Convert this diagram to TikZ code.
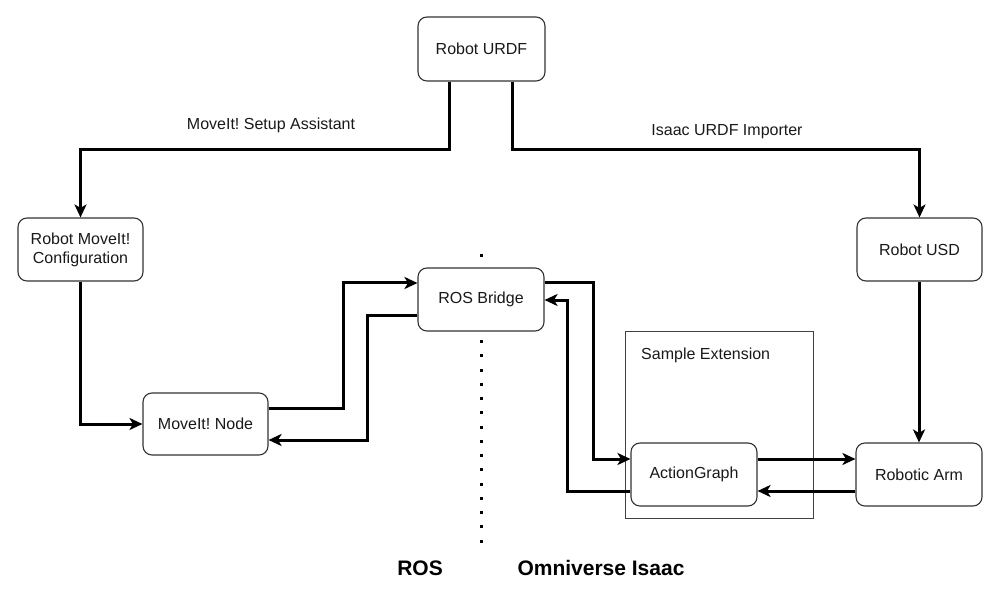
\documentclass[tikz,border=0pt]{standalone}
\usepackage{fontspec}
\setmainfont{Liberation Sans}
\usetikzlibrary{arrows.meta}
\frenchspacing
\begin{document}
\begin{tikzpicture}[x=1pt,y=-1pt,
  box/.style={draw=black!80,line width=1.1pt,rounded corners=9pt,fill=white,
    minimum width=126pt,minimum height=63pt,align=center,inner sep=2pt,
    text=black!90,font=\fontsize{16}{19}\selectfont},
  conn/.style={line width=3pt,-{Stealth[length=13pt,width=12pt,inset=3.5pt]},line join=miter},
  lbl/.style={text=black!90,font=\fontsize{16}{19}\selectfont,inner sep=0pt},
  big/.style={text=black,font=\bfseries\fontsize{21}{25}\selectfont,inner sep=0pt}]
\useasboundingbox (0,0) rectangle (1000,601);
% divider
\draw[line width=3pt,dash pattern=on 3pt off 11.25pt] (481,254.5) -- (481,542.5);
% container
\draw[draw=black!75,line width=1pt] (625,331) rectangle (813,518);
\node[lbl,anchor=west] (extlbl) at (641,355) {Sample Extension};
% nodes
\node[box,minimum width=127pt,minimum height=64pt] (urdf) at (481.5,49) {Robot URDF};
\node[box,minimum width=125pt] (cfg) at (80.5,249.5) {Robot MoveIt!\\Configuration};
\node[box,minimum width=125pt] (usd) at (919.5,249.5) {Robot USD};
\node[box] (bridge) at (481,299.5) {ROS Bridge};
\node[box,minimum width=125pt,minimum height=62pt] (mnode) at (205.5,424) {MoveIt! Node};
\node[box] (ag) at (694,474.5) {ActionGraph};
\node[box] (arm) at (919,474.5) {Robotic Arm};
% connector waypoints
\coordinate (a1) at (449,150);
\coordinate (a2) at (512,150);
% connectors
\draw[conn] (urdf.south -| a1) -- (a1) -| (cfg.north);
\draw[conn] (urdf.south -| a2) -- (a2) -| (usd.north);
\draw[conn] (cfg.south) |- (mnode.west);
\draw[conn] ([yshift=16pt]mnode.east) -- ++(75,0) |- ([yshift=16.5pt]bridge.west);
\draw[conn] ([yshift=-15.5pt]bridge.west) -- ++(-50,0) |- ([yshift=-16pt]mnode.east);
\draw[conn] ([yshift=16.5pt]bridge.east) -- ++(49,0) |- ([yshift=15.5pt]ag.west);
\draw[conn] ([yshift=-16.5pt]ag.west) -- ++(-63,0) |- ([yshift=-0.5pt]bridge.east);
\draw[conn] ([yshift=15.5pt]ag.east) -- ([yshift=15.5pt]arm.west);
\draw[conn] ([yshift=-16.5pt]arm.west) -- ([yshift=-16.5pt]ag.east);
\draw[conn] (usd.south -| arm.north) -- (arm.north);
% labels
\node[lbl] (l1) at (271,125) {MoveIt! Setup Assistant};
\node[lbl] (l2) at (727,132) {Isaac URDF Importer};
\node[big] (ros) at (420,568) {ROS};
\node[big] (omni) at (601,568) {Omniverse Isaac};
\end{tikzpicture}
\end{document}
